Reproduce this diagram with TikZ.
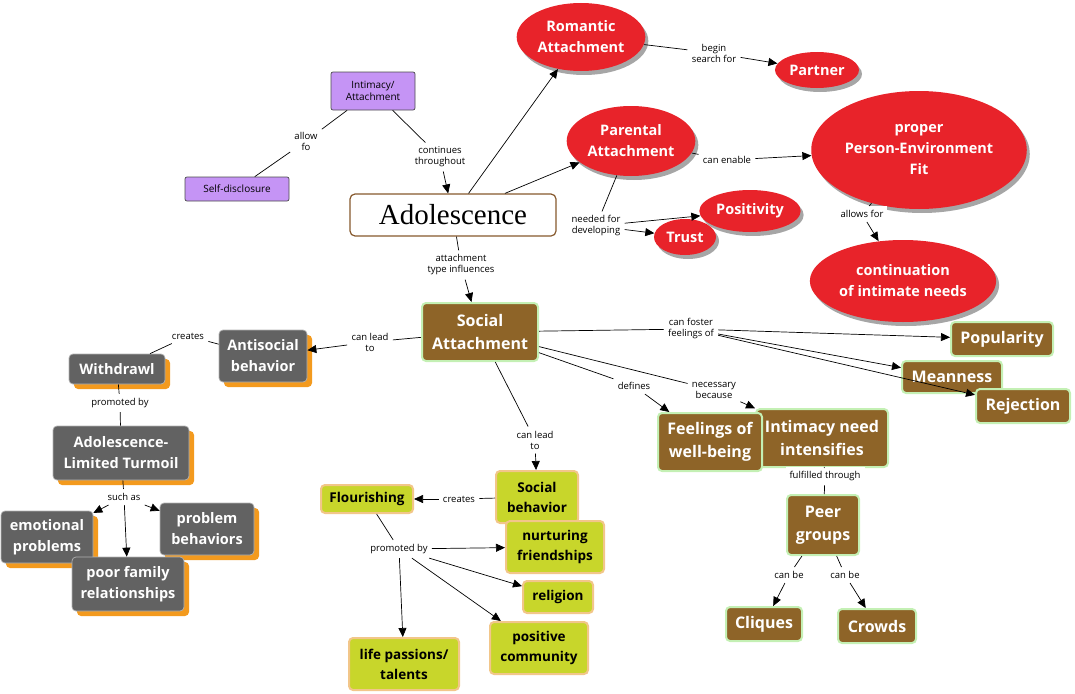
\documentclass[tikz,border=0pt]{standalone}
\usepackage{fontspec}
\setmainfont{Open Sans}
\newfontfamily\adofont{Liberation Serif}
\usetikzlibrary{shapes.geometric,shadows,arrows.meta}
\definecolor{redc}{HTML}{E8232A}
\definecolor{brownc}{HTML}{8E6428}
\definecolor{greenb}{HTML}{C4F0B4}
\definecolor{grayc}{HTML}{626262}
\definecolor{orangec}{HTML}{F39A1E}
\definecolor{yellowc}{HTML}{C8D62B}
\definecolor{yborder}{HTML}{F2C68A}
\definecolor{purplec}{HTML}{C594F5}
\begin{document}
\begin{tikzpicture}[x=1pt,y=-1pt,
  base/.style={align=center,inner sep=2pt,font=\fontsize{14.5}{21}\selectfont\bfseries},
  redn/.style={base,ellipse,fill=redc,text=white,drop shadow={shadow xshift=3pt,shadow yshift=-4pt,fill=gray!70,opacity=1}},
  brn/.style={base,rectangle,rounded corners=4pt,fill=brownc,draw=greenb,line width=2pt,text=white},
  gry/.style={base,rectangle,rounded corners=4pt,fill=grayc,draw=gray!60,text=white,drop shadow={shadow xshift=5pt,shadow yshift=-5pt,fill=orangec,opacity=1}},
  yel/.style={base,rectangle,rounded corners=4pt,fill=yellowc,draw=yborder,line width=2pt,text=black,font=\fontsize{13.5}{20}\selectfont\bfseries},
  pur/.style={align=center,rectangle,rounded corners=2pt,fill=purplec,draw=black!70,font=\fontsize{10}{12}\selectfont,inner sep=2pt},
  lbl/.style={align=center,font=\fontsize{9.5}{11}\selectfont,inner sep=4pt,fill=white},
  arr/.style={-{Triangle[length=9pt,width=8pt]}},
  line width=0.7pt]
\useasboundingbox (0,0) rectangle (1075,693);
% nodes
\node[pur,minimum width=84,minimum height=38] (int) at (373,91) {Intimacy/\\Attachment};
\node[pur,minimum width=104,minimum height=24] (self) at (237,189) {Self-disclosure};
\node[rectangle,rounded corners=5pt,draw=brown!70!black,line width=1.2pt,fill=white,minimum width=206,minimum height=42,font=\adofont\fontsize{29}{30}\selectfont] (ado) at (453,215) {Adolescence};
\node[redn,minimum width=120,minimum height=68] (rom) at (581,37) {Romantic\\Attachment};
\node[redn,minimum width=74,minimum height=36] (par) at (817,70) {Partner};
\node[redn,minimum width=120,minimum height=70] (pat) at (631,141) {Parental\\Attachment};
\node[redn,minimum width=200,minimum height=118] (fit) at (919,150) {proper\\Person-Environment\\Fit};
\node[redn,minimum width=88,minimum height=42] (pos) at (750,211) {Positivity};
\node[redn,minimum width=62,minimum height=36] (tru) at (685,237) {Trust};
\node[redn,minimum width=158,minimum height=82] (con) at (903,281) {continuation\\of intimate needs};
\node[brn,minimum width=116,minimum height=58,font=\fontsize{16}{23}\selectfont\bfseries] (soc) at (480,332) {Social\\Attachment};
\node[brn,minimum width=102,minimum height=34,font=\fontsize{16}{20}\selectfont\bfseries] (popu) at (1002,339) {Popularity};
\node[brn,minimum width=100,minimum height=32,font=\fontsize{16}{20}\selectfont\bfseries] (mean) at (952,377) {Meanness};
\node[brn,minimum width=94,minimum height=34,font=\fontsize{16}{20}\selectfont\bfseries] (rej) at (1023,406) {Rejection};
\node[brn,minimum width=132,minimum height=58,font=\fontsize{16}{23}\selectfont\bfseries] (inn) at (822,438) {Intimacy need\\intensifies};
\node[brn,minimum width=104,minimum height=58,font=\fontsize{16}{23}\selectfont\bfseries] (feel) at (710,442) {Feelings of\\well-being};
\node[brn,minimum width=72,minimum height=60,font=\fontsize{16}{23}\selectfont\bfseries] (peer) at (823,525) {Peer\\groups};
\node[brn,minimum width=76,minimum height=34,font=\fontsize{16}{20}\selectfont\bfseries] (cli) at (764,624) {Cliques};
\node[brn,minimum width=78,minimum height=34,font=\fontsize{16}{20}\selectfont\bfseries] (cro) at (877,626) {Crowds};
\node[gry,minimum width=88,minimum height=52] (anti) at (263,356) {Antisocial\\behavior};
\node[gry,minimum width=96,minimum height=30] (wit) at (117,369) {Withdrawl};
\node[gry,minimum width=136,minimum height=54] (tur) at (121,453) {Adolescence-\\Limited Turmoil};
\node[gry,minimum width=92,minimum height=52] (emo) at (47,537) {emotional\\problems};
\node[gry,minimum width=94,minimum height=52] (prb) at (207,529) {problem\\behaviors};
\node[gry,minimum width=112,minimum height=54] (fam) at (128,584) {poor family\\relationships};
\node[yel,minimum width=82,minimum height=52] (sb) at (537,497) {Social\\behavior};
\node[yel,minimum width=92,minimum height=28] (flo) at (367,499) {Flourishing};
\node[yel,minimum width=98,minimum height=52] (nur) at (555,547) {nurturing\\friendships};
\node[yel,minimum width=70,minimum height=32] (rel) at (558,597) {religion};
\node[yel,minimum width=98,minimum height=52] (pco) at (539,648) {positive\\community};
\node[yel,minimum width=110,minimum height=52] (lif) at (404,664) {life passions/\\talents};
% labels
\node[lbl] (l1) at (306,141) {allow\\fo};
\node[lbl] (l2) at (440,157) {continues\\throughout};
\node[lbl] (l3) at (714,53) {begin\\search for};
\node[lbl] (l4) at (727,160) {can enable};
\node[lbl] (l5) at (596,226) {needed for\\developing};
\node[lbl] (l6) at (862,214) {allows for};
\node[lbl] (l7) at (461,265) {attachment\\type influences};
\node[lbl] (l8) at (370,342) {can lead\\to};
\node[lbl] (l9) at (188,336) {creates};
\node[lbl] (l10) at (120,403) {promoted by};
\node[lbl] (l11) at (124,497) {such as};
\node[lbl] (l12) at (535,440) {can lead\\to};
\node[lbl] (l13) at (459,499) {creates};
\node[lbl] (l14) at (399,549) {promoted by};
\node[lbl] (l15) at (691,329) {can foster\\feelings of};
\node[lbl] (l16) at (634,386) {defines};
\node[lbl] (l17) at (714,390) {necessary\\because};
\node[lbl] (l18) at (825,476) {fulfilled through};
\node[lbl] (l19) at (789,575) {can be};
\node[lbl] (l20) at (845,575) {can be};
% connectors
\draw (int) -- (l1); \draw (l1) -- (self);
\draw (int) -- (l2); \draw[arr] (l2) -- (ado);
\draw[arr] (ado) -- (rom);
\draw[arr] (ado) -- (pat);
\draw (rom) -- (l3); \draw[arr] (l3) -- (par);
\draw (pat) -- (l4); \draw[arr] (l4) -- (fit);
\draw (pat) -- (l5); \draw[arr] (l5) -- (pos); \draw[arr] (l5) -- (tru);
\draw (fit) -- (l6); \draw[arr] (l6) -- (con);
\draw (ado) -- (l7); \draw[arr] (l7) -- (soc);
\draw (soc) -- (l8); \draw[arr] (l8) -- (anti);
\draw (anti) -- (l9); \draw (l9) -- (wit);
\draw (wit) -- (l10); \draw (l10) -- (tur);
\draw (tur) -- (l11); \draw[arr] (l11) -- (emo); \draw[arr] (l11) -- (prb); \draw[arr] (l11) -- (fam);
\draw (soc) -- (l12); \draw[arr] (l12) -- (sb);
\draw (sb) -- (l13); \draw[arr] (l13) -- (flo);
\draw (flo) -- (l14); \draw[arr] (l14) -- (nur); \draw[arr] (l14) -- (rel); \draw[arr] (l14) -- (pco); \draw[arr] (l14) -- (lif);
\draw (soc) -- (l15); \draw[arr] (l15) -- (popu); \draw[arr] (l15) -- (mean); \draw[arr] (l15) -- (rej);
\draw (soc) -- (l16); \draw[arr] (l16) -- (feel);
\draw (soc) -- (l17); \draw[arr] (l17) -- (inn);
\draw (inn) -- (l18); \draw (l18) -- (peer);
\draw (peer) -- (l19); \draw[arr] (l19) -- (cli);
\draw (peer) -- (l20); \draw[arr] (l20) -- (cro);
\end{tikzpicture}
\end{document}
